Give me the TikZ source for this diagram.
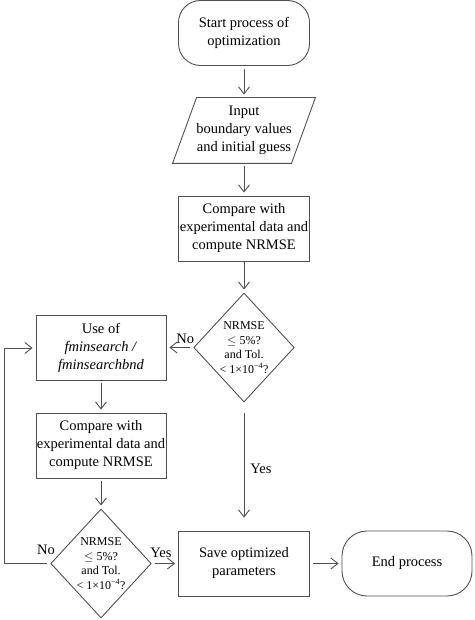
\documentclass[tikz,border=0pt]{standalone}
\usepackage{fontspec}
\setmainfont{Liberation Serif}
\usetikzlibrary{shapes.geometric,arrows.meta}
\definecolor{ln}{RGB}{80,80,80}
\tikzset{
  x=1pt,y=-1pt,
  base/.style={draw=ln,line width=0.9pt,align=center,font=\fontsize{14.5}{18}\selectfont,inner sep=0pt},
  boxnode/.style={base,rectangle,minimum width=131pt,minimum height=65pt},
  termnode/.style={base,rectangle,rounded corners=22pt,minimum width=131pt,minimum height=65pt},
  ionode/.style={base,draw=none,rectangle,minimum width=118pt,minimum height=65pt},
  decnode/.style={base,diamond,minimum width=91pt,minimum height=109pt,font=\fontsize{12}{14.5}\selectfont},
  lbl/.style={font=\fontsize{14.5}{17}\selectfont,inner sep=0pt},
  arr/.style={draw=ln,line width=0.9pt,-{Straight Barb[length=7pt,width=11pt]},shorten >=3pt,shorten <=3pt},
}
\begin{document}
\begin{tikzpicture}
\useasboundingbox (0,0) rectangle (474,620);
\node[termnode] (start) at (244,33) {Start process of\\optimization};
\node[ionode] (input) at (244,130.5) {Input\\boundary values\\and initial guess};
\draw[draw=ln,line width=0.9pt] ([xshift=12pt]input.north west) -- ([xshift=12pt]input.north east)
  -- ([xshift=-12pt]input.south east) -- ([xshift=-12pt]input.south west) -- cycle;
\node[boxnode] (cmp1) at (244,228.5) {Compare with\\experimental data and\\compute NRMSE};
\node[decnode] (dec1) at (244,347.5) {NRMSE\\$\leq$ 5\%?\\and Tol.\\< 1×10\textsuperscript{−4}?};
\node[boxnode,minimum width=130pt] (use) at (101,347.5) {Use of\\\textit{fminsearch /}\\\textit{fminsearchbnd}};
\node[boxnode,minimum width=130pt] (cmp2) at (101,445.5) {Compare with\\experimental data and\\compute NRMSE};
\node[decnode] (dec2) at (101,563.5) {NRMSE\\$\leq$ 5\%?\\and Tol.\\< 1×10\textsuperscript{−4}?};
\node[boxnode] (save) at (244,563.5) {Save optimized\\parameters};
\node[termnode,rounded corners=25pt,minimum width=130pt] (end) at (407,563.5) {End process};
\coordinate (c1) at (4,563.5);
\coordinate (c2) at (4,348);
\draw[arr] (start) -- (input);
\draw[arr] (input) -- (cmp1);
\draw[arr,shorten <=1pt] (cmp1) -- (dec1);
\draw[arr] (dec1) -- node[lbl,pos=0.3,above=3pt] {No} (use);
\draw[arr] (use) -- (cmp2);
\draw[arr] (cmp2) -- (dec2);
\draw[arr,shorten <=11pt,shorten >=13pt] (dec1) -- node[lbl,pos=0.52,right=6pt] {Yes} (save);
\draw[arr] (dec2) -- node[lbl,pos=0.35,above=5pt] {Yes} (save);
\draw[arr] (save) -- (end);
\draw[draw=ln,line width=0.9pt,shorten <=3pt] (dec2.west) -- (c1) -- (c2);
\draw[arr,shorten <=0pt] (c2) -- (c2 -| use.west);
\node[lbl] at (46,550) {No};
\end{tikzpicture}
\end{document}
